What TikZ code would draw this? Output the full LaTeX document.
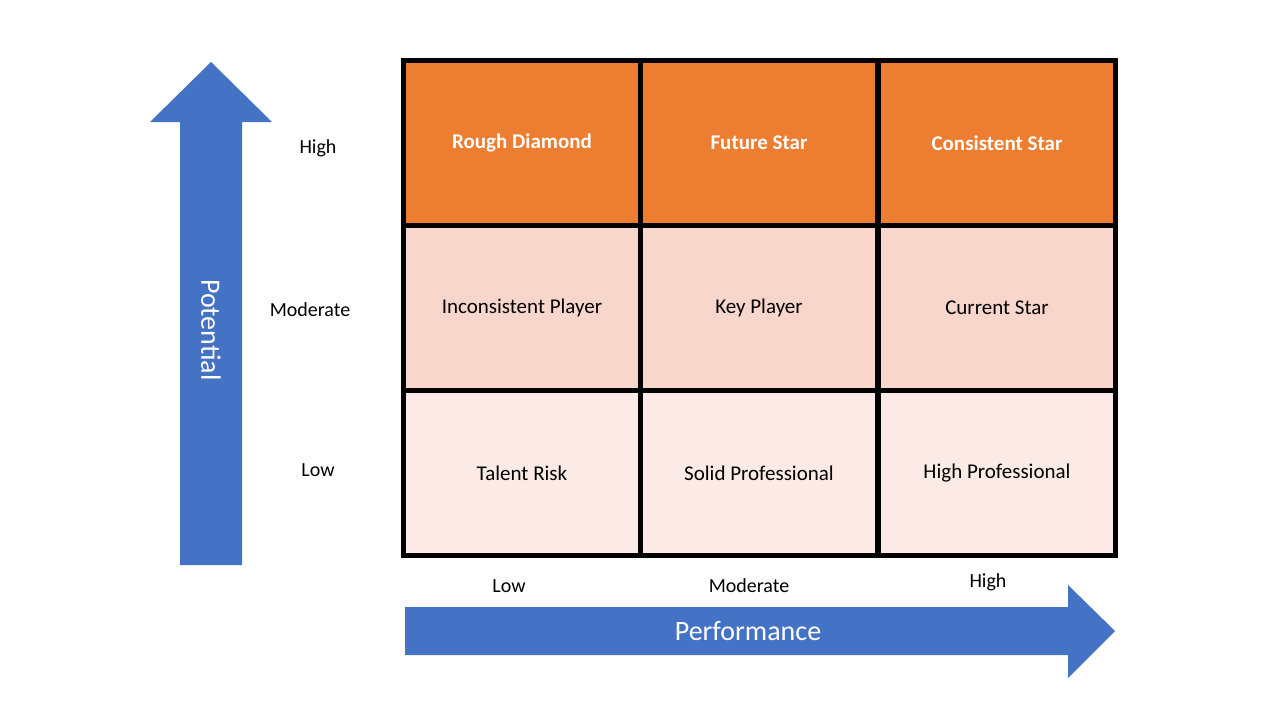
\documentclass[tikz,border=0pt]{standalone}
\usepackage{fontspec}
\setmainfont{Carlito}
\definecolor{orng}{HTML}{ED7D31}
\definecolor{midc}{HTML}{F8D6CB}
\definecolor{lowc}{HTML}{FBEAE6}
\definecolor{blu}{HTML}{4472C4}
\begin{document}
\begin{tikzpicture}[x=1pt,y=-1pt,
  cell/.style={draw=black,line width=5pt,minimum width=237pt,minimum height=165pt,inner sep=0pt,font=\fontsize{21}{24}\selectfont},
  axl/.style={font=\fontsize{20}{24}\selectfont}]
\useasboundingbox (0,0) rectangle (1280,720);
% arrows
\fill[blu] (180,565) -- (180,122) -- (150,122) -- (211,62) -- (272,122) -- (242,122) -- (242,565) -- cycle;
\fill[blu] (405,607) -- (1068,607) -- (1068,585) -- (1115,631) -- (1068,678) -- (1068,655) -- (405,655) -- cycle;
\node[white,rotate=-90,font=\fontsize{28}{32}\selectfont] (pot) at (211,330) {Potential};
\node[white,font=\fontsize{28}{32}\selectfont] (perf) at (748,631) {Performance};
% cells
\foreach \c/\x in {0/522,1/759,2/997}{}
\node[cell,fill=orng,text=white,font=\fontsize{21}{24}\selectfont\bfseries] (c11) at (522,143) {Rough Diamond};
\node[cell,fill=orng,text=white,font=\fontsize{21}{24}\selectfont\bfseries] (c12) at (759,143) {Future Star};
\node[cell,fill=orng,text=white,font=\fontsize{21}{24}\selectfont\bfseries] (c13) at (997,143) {Consistent Star};
\node[cell,fill=midc] (c21) at (522,308) {Inconsistent Player};
\node[cell,fill=midc] (c22) at (759,308) {Key Player};
\node[cell,fill=midc] (c23) at (997,308) {Current Star};
\node[cell,fill=lowc] (c31) at (522,473) {Talent Risk};
\node[cell,fill=lowc] (c32) at (759,473) {Solid Professional};
\node[cell,fill=lowc] (c33) at (997,473) {High Professional};
% axis labels
\node[axl] (yh) at (318,148) {High};
\node[axl] (ym) at (310,310) {Moderate};
\node[axl] (yl) at (318,470) {Low};
\node[axl] (xl) at (509,586) {Low};
\node[axl] (xm) at (749,586) {Moderate};
\node[axl] (xh) at (988,582) {High};
\end{tikzpicture}
\end{document}
